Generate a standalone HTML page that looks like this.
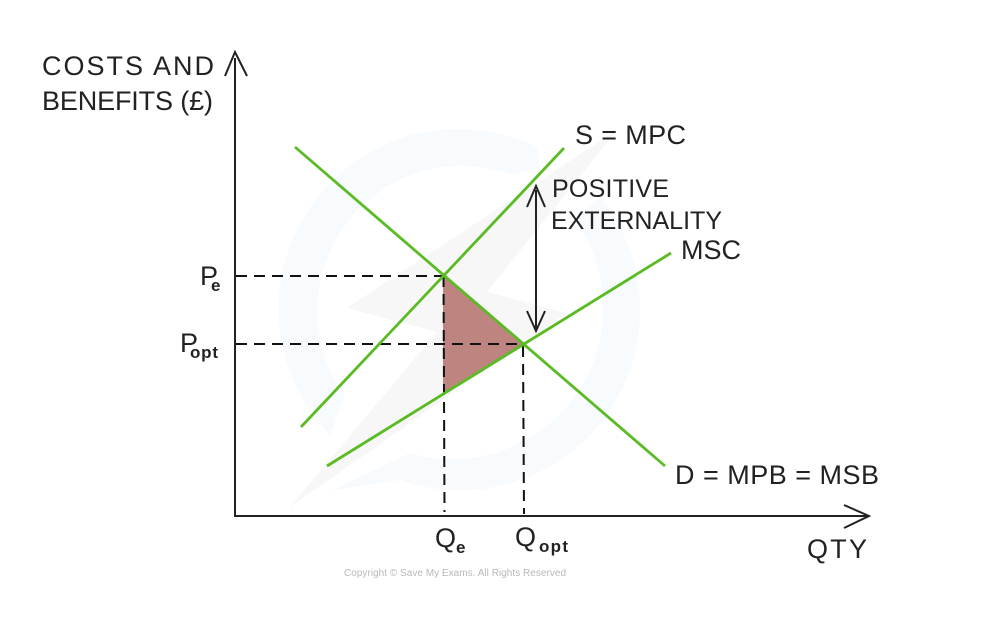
<!DOCTYPE html>
<html><head><meta charset="utf-8"><style>
html,body{margin:0;padding:0;background:#fff}
svg{display:block}
text{font-family:"Liberation Sans",sans-serif;fill:#222}
</style></head><body>
<svg width="982" height="624" viewBox="0 0 982 624" xmlns="http://www.w3.org/2000/svg">
<rect width="982" height="624" fill="#fff"/>
<!-- watermark ring -->
<g fill="#f8fbfd">
<path d="M537 147A180 180 0 0 0 330 435L345 396A145 145 0 0 1 513 175L540 168Z"/>
<path d="M600 197A180 180 0 0 1 400 480L330 491L410 453A151 151 0 0 0 575 220Z"/>
</g>
<!-- watermark bolt -->
<path d="M617 130L487 292L567 313L290 507L437 332L347 308Z" fill="#f7f7f7"/>
<!-- triangle -->
<polygon points="443,275 522,344 443,393" fill="#bd8480"/>
<!-- axes -->
<path d="M235 58V516H868" fill="none" stroke="#222" stroke-width="2"/>
<path d="M225 76L235 52L247 76M844 505L869 516L844 528" fill="none" stroke="#222" stroke-width="2"/>
<!-- dashed -->
<g fill="none" stroke="#111" stroke-width="2" stroke-dasharray="11 7">
<path d="M236 276H443"/>
<path d="M236 344H522"/>
<path d="M443.500 276L444.500 512"/>
<path d="M523 346L524 514"/>
</g>
<!-- curves -->
<g fill="none" stroke="#5bbb25" stroke-width="2.800">
<path d="M295 147L665 466"/>
<path d="M301 427L564 148"/>
<path d="M327 466L671 253"/>
</g>
<!-- double arrow -->
<path d="M536 190V331M527 207L536 186L545 207M527 311L536 331L545 311" fill="none" stroke="#222" stroke-width="2"/>
<!-- labels -->
<g font-size="27">
<text x="42" y="75" textLength="172" lengthAdjust="spacing">COSTS AND</text>
<text x="42" y="110" textLength="171" lengthAdjust="spacing">BENEFITS (£)</text>
<text x="575" y="144" textLength="111" lengthAdjust="spacing">S = MPC</text>
<text x="552" y="197" font-size="25" textLength="117" lengthAdjust="spacing">POSITIVE</text>
<text x="551" y="229" font-size="25" textLength="171" lengthAdjust="spacing">EXTERNALITY</text>
<text x="681" y="259" textLength="60" lengthAdjust="spacing">MSC</text>
<text x="675" y="484" textLength="204" lengthAdjust="spacing">D = MPB = MSB</text>
<text x="200" y="285">P</text>
<text x="180" y="352">P</text>
<text x="435" y="547">Q</text>
<text x="515" y="546">Q</text>
<text x="807" y="558" textLength="60" lengthAdjust="spacing">QTY</text>
</g>
<g font-size="17" font-weight="bold">
<text x="211" y="291">e</text>
<text x="190" y="358" textLength="28" lengthAdjust="spacing">opt</text>
<text x="456" y="553">e</text>
<text x="539" y="552" textLength="29" lengthAdjust="spacing">opt</text>
</g>
<text x="344" y="576" font-size="10" style="fill:#b8b8b8" textLength="222" lengthAdjust="spacing">Copyright © Save My Exams. All Rights Reserved</text>
</svg>
</body></html>
